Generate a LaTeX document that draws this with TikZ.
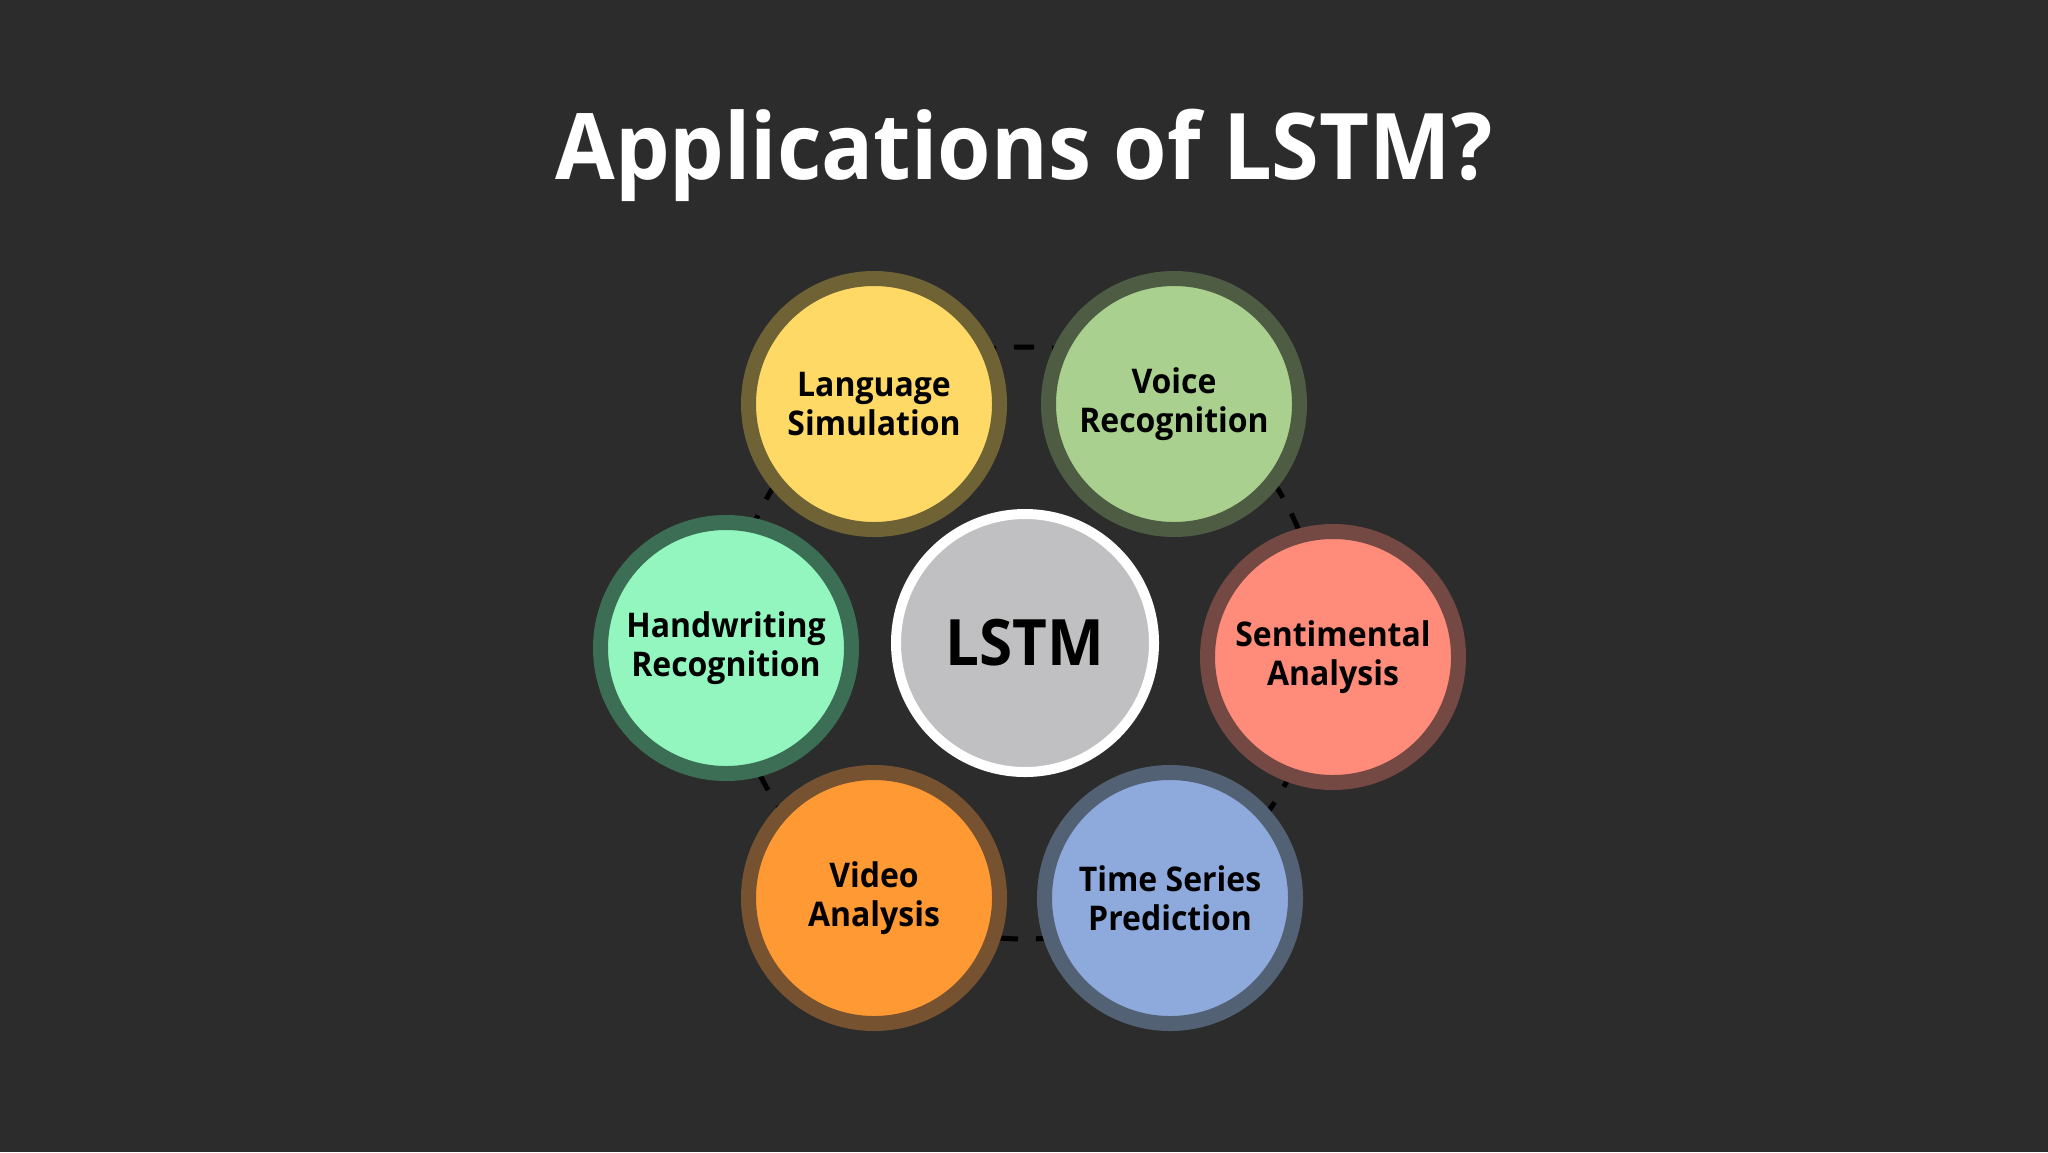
\documentclass[tikz,border=0pt]{standalone}
\usepackage{fontspec}
\setmainfont[FakeStretch=0.94]{Open Sans}
\definecolor{my board}{HTML}{2C2C2C}
\definecolor{my yellow}{HTML}{FED966}
\definecolor{my yellow ring}{HTML}{6F6335}
\definecolor{my green}{HTML}{A9D08E}
\definecolor{my green ring}{HTML}{4E5C44}
\definecolor{my mint}{HTML}{92F6BE}
\definecolor{my mint ring}{HTML}{3C6E55}
\definecolor{my red}{HTML}{FF8B7A}
\definecolor{my red ring}{HTML}{744843}
\definecolor{my orange}{HTML}{FF9933}
\definecolor{my orange ring}{HTML}{765230}
\definecolor{my blue}{HTML}{8EA9DB}
\definecolor{my blue ring}{HTML}{526174}
\definecolor{my gray}{HTML}{C0BFC1}

\begin{document}
\begin{tikzpicture}[x=0.5pt, y=-0.5pt,
        app/.style={circle, minimum size=125.5pt, line width=7.5pt, inner sep=0pt, align=center, font=\bfseries\fontsize{17}{19.5}\selectfont},
        hub/.style={circle, minimum size=129pt, line width=5pt, draw=white, fill=my gray, font=\bfseries\fontsize{32}{38}\selectfont},
        ring/.style={black, line width=2.5pt, dash pattern=on 10pt off 9pt}]
            \fill [my board] (0, 0) rectangle (2048, 1152);
            \node [white, anchor=base, font=\bfseries\fontsize{46}{54}\selectfont] (title) at (1024, 179) {Applications of LSTM?};
            \node [hub] (lstm) at (1025, 643) {LSTM};
            \draw [ring] (lstm.center) circle [radius=148pt];
            \node [app, fill=my yellow, draw=my yellow ring] (language) at (874, 404) {Language\\Simulation};
            \node [app, fill=my green, draw=my green ring] (voice) at (1174, 404) {Voice\\Recognition};
            \node [app, fill=my mint, draw=my mint ring] (handwriting) at (726, 648) {Handwriting\\Recognition};
            \node [app, fill=my red, draw=my red ring] (sentiment) at (1333, 657) {Sentimental\\Analysis};
            \node [app, fill=my orange, draw=my orange ring] (video) at (874, 898) {Video\\Analysis};
            \node [app, fill=my blue, draw=my blue ring] (series) at (1170, 898) {Time Series\\Prediction};
        \end{tikzpicture}
\end{document}
